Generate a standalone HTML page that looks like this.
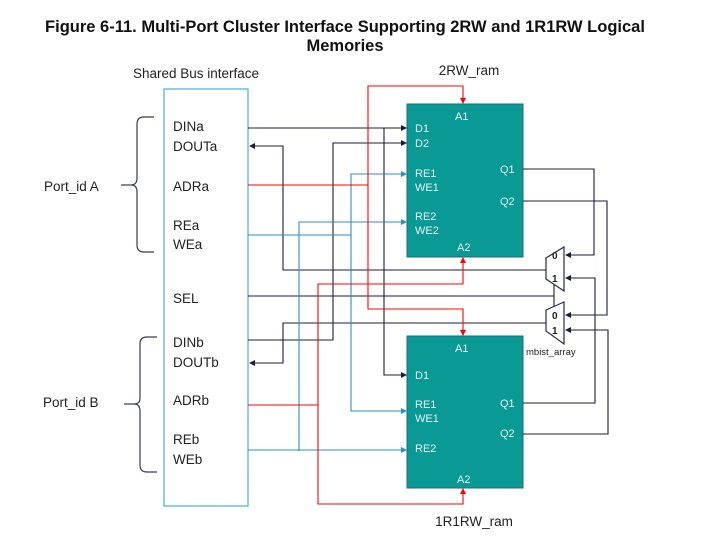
<!DOCTYPE html>
<html><head><meta charset="utf-8"><style>
html,body{margin:0;padding:0;background:#fff;}
svg{display:block;font-family:"Liberation Sans",Arial,sans-serif;}
.t{font-size:13.5px;fill:#222;}
.b{font-size:11px;fill:#e8f4f4;}
</style></head><body>
<svg width="702" height="557" viewBox="0 0 702 557" xmlns="http://www.w3.org/2000/svg">
<defs>
<marker id="ad" markerWidth="6" markerHeight="6" refX="5" refY="3" orient="auto" markerUnits="userSpaceOnUse"><path d="M0,0 L6,3 L0,6 z" fill="#1c1c3a"/></marker>
<marker id="ab" markerWidth="6" markerHeight="6" refX="5" refY="3" orient="auto" markerUnits="userSpaceOnUse"><path d="M0,0 L6,3 L0,6 z" fill="#2a8fc6"/></marker>
<marker id="ar" markerWidth="6" markerHeight="6" refX="5" refY="3" orient="auto" markerUnits="userSpaceOnUse"><path d="M0,0 L6,3 L0,6 z" fill="#f00"/></marker>
</defs>
<text x="345" y="32" text-anchor="middle" font-weight="bold" font-size="16.5" fill="#111">Figure 6-11. Multi-Port Cluster Interface Supporting 2RW and 1R1RW Logical</text>
<text x="345" y="51" text-anchor="middle" font-weight="bold" font-size="16.5" fill="#111">Memories</text>
<text x="196" y="78" text-anchor="middle" class="t" font-size="14">Shared Bus interface</text>
<text x="469" y="75" text-anchor="middle" class="t" font-size="14">2RW_ram</text>
<text x="474" y="526" text-anchor="middle" class="t" font-size="14">1R1RW_ram</text>

<!-- bus box -->
<rect x="164" y="89" width="84" height="417" fill="#fff" stroke="#2a9bd0" stroke-width="1"/>
<g class="t">
<text x="173" y="131">DINa</text><text x="173" y="151">DOUTa</text>
<text x="173" y="191">ADRa</text>
<text x="173" y="230">REa</text><text x="173" y="249">WEa</text>
<text x="173" y="303">SEL</text>
<text x="173" y="347">DINb</text><text x="173" y="367">DOUTb</text>
<text x="173" y="405">ADRb</text>
<text x="173" y="444">REb</text><text x="173" y="464">WEb</text>
<text x="44" y="191">Port_id A</text>
<text x="43" y="407">Port_id B</text>
</g>
<!-- braces -->
<g fill="none" stroke="#3a3a5a" stroke-width="1.2">
<path d="M154,117 H144 Q137,117 137,124 V178 Q137,185 131,185 Q137,185 137,192 V245 Q137,252 144,252 H154"/>
<path d="M121,185 H131"/>
<path d="M157,337 H147 Q140,337 140,344 V398 Q140,404 134,404 Q140,404 140,411 V465 Q140,472 147,472 H157"/>
<path d="M124,404 H134"/>
</g>

<!-- RAM boxes -->
<rect x="407" y="104" width="116" height="153" fill="#0a9a96" stroke="#1d6a78" stroke-width="1"/>
<rect x="407" y="336" width="116" height="152" fill="#0a9a96" stroke="#1d6a78" stroke-width="1"/>
<g class="b">
<text x="455" y="120">A1</text>
<text x="415" y="132">D1</text><text x="415" y="147">D2</text>
<text x="415" y="177">RE1</text><text x="415" y="191">WE1</text>
<text x="415" y="220">RE2</text><text x="415" y="234">WE2</text>
<text x="500" y="173">Q1</text><text x="500" y="205">Q2</text>
<text x="457" y="251">A2</text>
<text x="455" y="352">A1</text>
<text x="415" y="379">D1</text>
<text x="415" y="408">RE1</text><text x="415" y="422">WE1</text>
<text x="415" y="452">RE2</text>
<text x="500" y="407">Q1</text><text x="500" y="437">Q2</text>
<text x="457" y="483">A2</text>
</g>

<!-- muxes -->
<g fill="#fff" stroke="#2a2a4a" stroke-width="1.2">
<path d="M546,258 L564,247 L564,291 L546,279 Z"/>
<path d="M546,310 L564,302 L564,344 L546,331 Z"/>
</g>
<g font-size="10" font-weight="bold" fill="#222">
<text x="552" y="259">0</text><text x="552" y="282">1</text>
<text x="552" y="319">0</text><text x="552" y="334">1</text>
</g>
<text x="526" y="355" font-size="9.5" fill="#222">mbist_array</text>

<!-- dark lines -->
<g fill="none" stroke="#1c1c3a" stroke-width="1.1">
<path d="M248,128 H406" marker-end="url(#ad)"/>
<path d="M384,128 V375 H406" marker-end="url(#ad)"/>
<path d="M248,340 H333 V143 H406" marker-end="url(#ad)"/>
<path d="M546,270 H283 V146 H250" marker-end="url(#ad)"/>
<path d="M546,323 H283 V363 H250" marker-end="url(#ad)"/>
<path d="M248,296 H554 V285 M554,296 V306"/>
<path d="M523,169 H594 V255 H566" marker-end="url(#ad)"/>
<path d="M523,201 H607 V315 H566" marker-end="url(#ad)"/>
<path d="M523,403 H595 V278 H566" marker-end="url(#ad)"/>
<path d="M523,434 H608 V330 H566" marker-end="url(#ad)"/>
</g>
<!-- blue lines -->
<g fill="none" stroke="#2a8fc6" stroke-width="1.1">
<path d="M248,235 H351 V174 H406" marker-end="url(#ab)"/>
<path d="M351,235 V411 H406" marker-end="url(#ab)"/>
<path d="M248,450 H406" marker-end="url(#ab)"/>
<path d="M299,451 V222 H406" marker-end="url(#ab)"/>
</g>
<!-- red lines -->
<g fill="none" stroke="#f00" stroke-width="1.1">
<path d="M248,185 H368 V86 H463 V103" marker-end="url(#ar)"/>
<path d="M368,185 V309 H463 V335" marker-end="url(#ar)"/>
<path d="M248,405 H318 V284 H463 V258" marker-end="url(#ar)"/>
<path d="M318,405 V504 H463 V489" marker-end="url(#ar)"/>
</g>
</svg>
</body></html>
